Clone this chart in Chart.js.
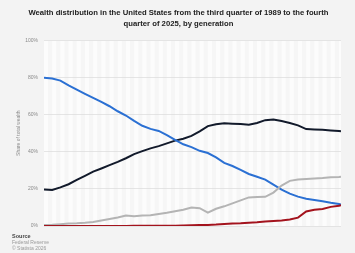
<!DOCTYPE html>
<html lang="en">
<head>
    <meta charset="UTF-8">
    <title>Wealth distribution by generation</title>
    <script src="https://cdn.jsdelivr.net/npm/chart.js"></script>
    <style>
        html, body { margin: 0; padding: 0; background: #f3f3f3; }
        #wrap { position: relative; width: 355px; height: 253px; overflow: hidden; }
        #source { position: absolute; left: 12px; top: 233px; font-family: "Liberation Sans", Arial, sans-serif; font-size: 5px; line-height: 6px; color: #999; }
        #source b { color: #444; font-size: 5.5px; }
    </style>
</head>
<body>
    <div id="wrap">
        <canvas id="mychart" width="355" height="253"></canvas>
        <div id="source"><b>Source</b><br>Federal Reserve<br>© Statista 2026</div>
    </div>
    <script>
        // quarter positions (Q3 of each year, plus the last quarter Q4 2025)
        const quarters = [1989.5, 1990.5, 1991.5, 1992.5, 1993.5, 1994.5, 1995.5, 1996.5, 1997.5, 1998.5,
            1999.5, 2000.5, 2001.5, 2002.5, 2003.5, 2004.5, 2005.5, 2006.5, 2007.5, 2008.5,
            2009.5, 2010.5, 2011.5, 2012.5, 2013.5, 2014.5, 2015.5, 2016.5, 2017.5, 2018.5,
            2019.5, 2020.5, 2021.5, 2022.5, 2023.5, 2024.5, 2025.5, 2025.75];

        const silent = [79.9, 79.4, 78.3, 75.8, 73.5, 71.2, 69.0, 66.8, 64.5, 61.8,
            59.5, 56.6, 54.0, 52.3, 51.2, 49.0, 46.4, 44.0, 42.5, 40.5,
            39.3, 37.0, 34.0, 32.3, 30.2, 28.0, 26.5, 25.0, 22.3, 19.6,
            17.4, 15.8, 14.7, 14.0, 13.3, 12.5, 11.9, 11.6];
        const boomers = [19.7, 19.4, 20.8, 22.5, 24.8, 27.0, 29.3, 31.0, 32.8, 34.5,
            36.5, 38.7, 40.3, 41.8, 43.0, 44.5, 46.0, 47.0, 48.5, 51.0,
            53.8, 54.8, 55.3, 55.1, 54.9, 54.6, 55.5, 57.0, 57.4, 56.5,
            55.5, 54.2, 52.2, 52.0, 51.8, 51.5, 51.2, 51.0];
        const genX = [0.5, 0.7, 1.0, 1.3, 1.5, 1.8, 2.2, 3.0, 3.8, 4.6,
            5.6, 5.3, 5.6, 5.8, 6.5, 7.1, 8.0, 8.8, 10.0, 9.6,
            7.2, 9.3, 10.6, 12.2, 13.8, 15.4, 15.6, 15.7, 18.0, 21.8,
            24.3, 25.0, 25.3, 25.6, 25.8, 26.2, 26.4, 26.6];
        const millennials = [0, 0, 0, 0, 0, 0, 0, 0, 0, 0,
            0.05, 0.1, 0.1, 0.1, 0.1, 0.2, 0.2, 0.3, 0.4, 0.5,
            0.6, 0.8, 1.1, 1.3, 1.5, 1.8, 2.0, 2.4, 2.7, 3.0,
            3.5, 4.5, 7.8, 8.7, 9.2, 10.3, 10.9, 11.2];

        const yTicks = [0, 20, 40, 60, 80, 100];

        function pts(arr) {
            return arr.map((v, i) => ({ x: quarters[i], y: v }));
        }

        // light vertical stripes behind the plot
        const stripes = {
            id: 'stripes',
            beforeDraw(chart) {
                const { ctx, chartArea, scales } = chart;
                ctx.save();
                ctx.fillStyle = '#f6f6f6';
                ctx.fillRect(chartArea.left, chartArea.top, chartArea.width, chartArea.height);
                ctx.fillStyle = '#fcfcfc';
                for (let y = 1989; y <= 2025; y++) {
                    const a = Math.max(scales.x.getPixelForValue(y + 0.5), chartArea.left);
                    const b = Math.min(scales.x.getPixelForValue(y + 1), chartArea.right);
                    if (b > a) ctx.fillRect(a, chartArea.top, b - a, chartArea.height);
                }
                ctx.restore();
            }
        };

        const ds = (label, data, color) => ({
            label: label, data: pts(data), borderColor: color, backgroundColor: color,
            borderWidth: 2, pointRadius: 0, tension: 0
        });

        new Chart(document.getElementById('mychart').getContext('2d'), {
            type: 'line',
            data: {
                datasets: [
                    ds('Millennials', millennials, '#a3131d'),
                    ds('Generation X', genX, '#b4b4b4'),
                    ds('Silent and earlier', silent, '#2b70d3'),
                    ds('Baby boomers', boomers, '#121a2b')
                ]
            },
            options: {
                responsive: false,
                animation: false,
                layout: { padding: { left: 16, right: 14, bottom: 27, top: 0 } },
                plugins: {
                    legend: { display: false },
                    tooltip: { enabled: false },
                    title: {
                        display: true,
                        text: ['Wealth distribution in the United States from the third quarter of 1989 to the fourth',
                               'quarter of 2025, by generation'],
                        font: { family: 'Liberation Sans', size: 7.7, weight: 'bold', lineHeight: 1.45 },
                        color: '#222',
                        padding: { top: 7, bottom: 11 }
                    }
                },
                scales: {
                    x: {
                        type: 'linear',
                        min: 1989.5,
                        max: 2025.75,
                        display: false
                    },
                    y: {
                        min: 0,
                        max: 100,
                        afterFit(scale) { scale.width = 28; },
                        afterBuildTicks(scale) { scale.ticks = yTicks.map(v => ({ value: v })); },
                        ticks: {
                            callback: v => v + '%',
                            font: { family: 'Liberation Sans', size: 5 },
                            color: '#8a8a8a',
                            padding: 6
                        },
                        grid: { color: '#dedede', drawTicks: false, lineWidth: 0.8 },
                        border: { display: false },
                        title: {
                            display: true,
                            text: 'Share of total wealth',
                            font: { family: 'Liberation Sans', size: 5 },
                            color: '#8a8a8a',
                            padding: 0
                        }
                    }
                }
            },
            plugins: [stripes]
        });
    </script>
</body>
</html>
